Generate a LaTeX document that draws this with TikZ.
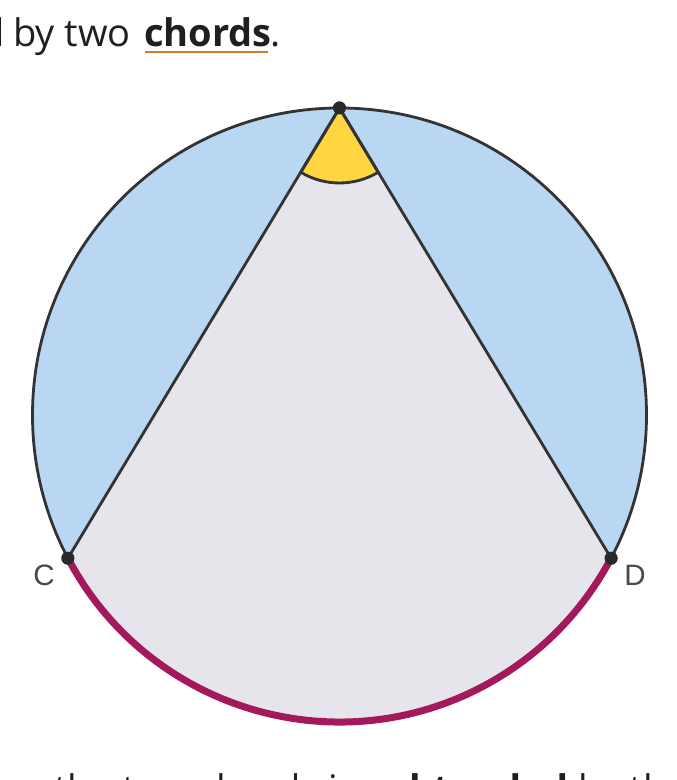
\documentclass[tikz,border=0pt]{standalone}
\usepackage{fontspec}
\setmainfont{Open Sans}
\newfontfamily\labelfont{Liberation Sans}
\definecolor{segblue}{HTML}{B9D6F2}
\definecolor{inner}{HTML}{E6E5EC}
\definecolor{angyellow}{HTML}{FFD641}
\definecolor{arcmag}{HTML}{A3195B}
\definecolor{ink}{HTML}{333333}
\definecolor{lbl}{HTML}{4A4A4A}
\definecolor{ulorange}{HTML}{D87A2C}
\tikzset{
  outline/.style={draw=ink, line width=2.8pt},
  ptdot/.style={circle, fill=ink!80!black, inner sep=0pt, minimum size=13pt},
  ptlabel/.style={font=\labelfont\fontsize{29.5}{33}\selectfont, text=lbl, inner sep=0pt},
  bodytext/.style={font=\fontsize{38}{46}\selectfont, text=black!88, inner sep=0pt, anchor=base west},
}
\begin{document}
\begin{tikzpicture}[x=1pt,y=1pt]
\useasboundingbox (0,0) rectangle (677,780);
\begin{scope}
\clip (0,0) rectangle (677,780);
\fill[white] (0,0) rectangle (677,780);
% text lines
\node[bodytext, anchor=base east] (t0) at (5,733) {formed};
\node[bodytext] (t1) at (13,733) {by two};
\node[bodytext] (t2) at (144,733) {\textbf{chords}};
\node[bodytext] (t3) at (270,733) {.};
\coordinate (u1) at (145,728);
\coordinate (u2) at (268,728);
\draw[ulorange, line width=2.5pt] (u1) -- (u2);
\node[bodytext] (b1) at (54,-22) {the two chords is \textbf{subtended} by the};
% geometry
\coordinate (O) at (339.5,365);
\node[ptdot] (A) at (339.5,672) {};
\node[ptdot] (C) at ({339.5+307*cos(207.8)},{365+307*sin(207.8)}) {};
\node[ptdot] (D) at ({339.5+307*cos(332.2)},{365+307*sin(332.2)}) {};
\fill[segblue] (O) circle[radius=307pt];
\fill[inner] (A.center) -- (C.center) arc[start angle=207.8, end angle=332.2, radius=307pt] -- cycle;
\filldraw[fill=angyellow, outline] (A.center) -- ++(238.9:75pt) arc[start angle=238.9, end angle=301.1, radius=75pt] -- cycle;
\draw[outline] (O) circle[radius=307pt];
\draw[outline] (C.center) -- (A.center) -- (D.center);
\draw[arcmag, line width=7pt] (C.center) arc[start angle=207.8, end angle=332.2, radius=307pt];
\node[ptdot] at (A) {};
\node[ptdot] at (C) {};
\node[ptdot] at (D) {};
\node[ptlabel] (lc) at (44,205) {C};
\node[ptlabel] (ld) at (635,205) {D};
\end{scope}
\end{tikzpicture}
\end{document}
